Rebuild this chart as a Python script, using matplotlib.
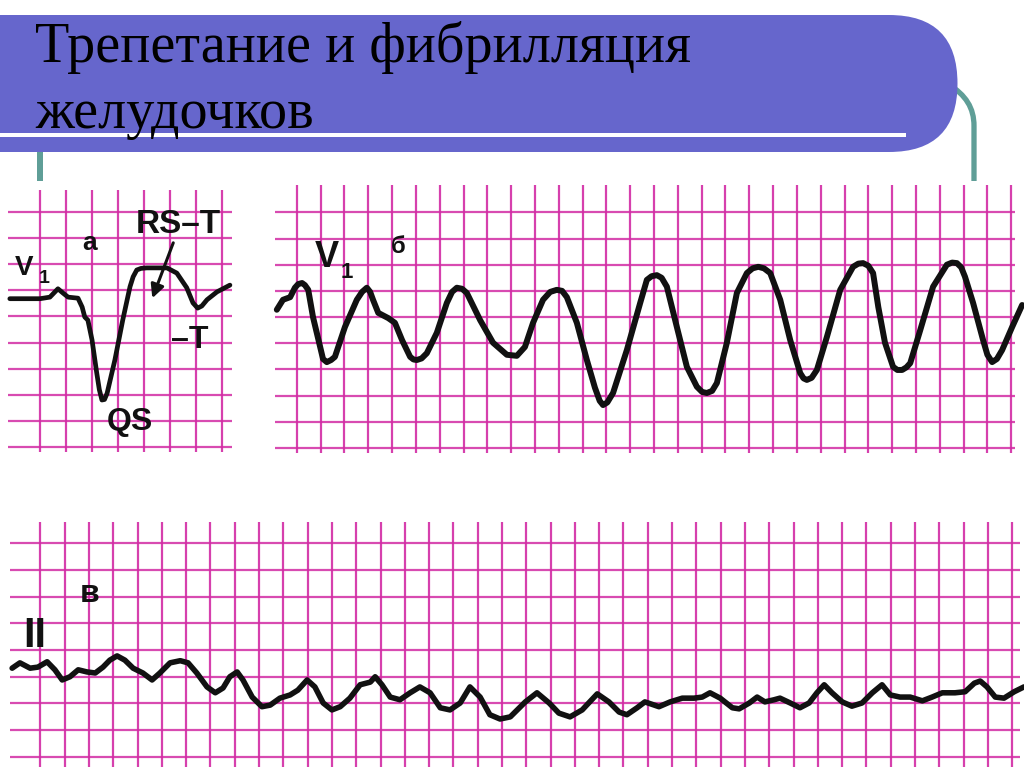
import numpy as np
import matplotlib.pyplot as plt
from matplotlib.patches import FancyBboxPatch, Rectangle, PathPatch
from matplotlib.path import Path

# ---------------- данные (мм ленты по X, мм амплитуды по Y) ----------------
# а: V1, QS + подъём RS-T + отрицательный T
a_x = [-0.8, 5.0, 6.9, 8.45, 9.4, 10.4, 12.3, 13.1, 13.6, 14.2, 15.0, 15.9, 16.4, 16.9,
       17.4, 17.9, 19.4, 20.9, 22.3, 22.9, 23.6, 24.4, 25.5, 29.4, 31.3, 33.2, 34.4,
       35.3, 36.1, 37.1, 39.0, 41.5]
a_y = [28.4, 28.4, 28.7, 30.3, 29.5, 28.7, 28.5, 26.8, 24.9, 24.3, 20.5, 14.2, 11.0, 9.0,
       9.1, 10.3, 16.7, 24.3, 30.7, 32.6, 33.9, 34.2, 34.3, 34.3, 33.3, 30.5, 27.6,
       26.6, 27.0, 28.2, 29.7, 31.0]

# б: V1, трепетание желудочков (пары x, y)
b_pts = np.array([
    (0.8, 26.4), (2.1, 28.3), (3.6, 28.8), (4.6, 30.6), (5.3, 31.3), (6.1, 31.5),
    (6.7, 31.1), (7.4, 30.2), (8.4, 25.0), (9.9, 19.3), (10.5, 17.0), (11.3, 16.4),
    (12.2, 16.8), (13.0, 17.4), (15.1, 23.1), (17.6, 28.3), (18.7, 29.8), (19.7, 30.6),
    (20.4, 29.8), (21.0, 28.3), (22.1, 25.8), (24.2, 24.8), (25.6, 23.9), (27.1, 20.6),
    (28.8, 17.4), (29.5, 16.9), (30.2, 16.8), (31.2, 17.1), (32.3, 18.1), (34.4, 22.0),
    (36.5, 27.7), (37.6, 29.8), (38.6, 30.6), (39.7, 30.4), (40.7, 29.6), (43.5, 24.4),
    (46.2, 20.1), (49.1, 17.8), (51.2, 17.6), (52.9, 19.3), (54.6, 23.9), (56.7, 28.3),
    (58.2, 29.8), (59.6, 30.2), (60.7, 30.0), (61.7, 28.8), (63.8, 23.9), (65.9, 16.8),
    (67.6, 11.5), (68.6, 9.0), (69.3, 8.2), (70.2, 8.7), (71.4, 10.5), (74.3, 18.7),
    (77.1, 27.7), (78.5, 32.1), (79.5, 32.8), (80.6, 33.0), (81.6, 32.5), (82.7, 30.8),
    (84.8, 23.1), (86.9, 15.5), (89.0, 11.7), (90.1, 10.7), (91.1, 10.5), (92.2, 10.9),
    (93.2, 12.4), (95.3, 20.1), (97.4, 29.6), (99.5, 33.4), (100.7, 34.3), (101.9, 34.6),
    (103.1, 34.3), (104.4, 33.4), (106.5, 28.3), (108.6, 20.6), (110.7, 14.3),
    (111.4, 13.3), (112.1, 13.0), (113.1, 13.4), (114.2, 14.9), (116.3, 21.2),
    (119.1, 30.2), (121.8, 34.6), (122.9, 35.2), (123.9, 35.3), (125.0, 34.8),
    (126.0, 33.4), (127.1, 26.9), (128.5, 20.1), (130.2, 15.5), (131.1, 14.9),
    (132.1, 14.9), (133.0, 15.4), (133.8, 16.2), (135.9, 22.5), (138.6, 30.8),
    (141.5, 35.0), (142.6, 35.4), (143.6, 35.3), (144.5, 34.5), (145.3, 32.7),
    (147.0, 27.7), (149.1, 20.6), (150.0, 17.8), (151.0, 16.4), (152.0, 17.0),
    (153.1, 18.7), (155.2, 23.1), (157.3, 27.3),
])
b_x, b_y = b_pts[:, 0], b_pts[:, 1]

# в: II, фибрилляция желудочков
c_x = [-0.8, 0.8, 2.9, 4.5, 6.4, 8.0, 9.5, 11.1, 12.8, 14.6, 16.3, 17.9, 19.3, 20.8,
       22.4, 24.1, 26.1, 28.0, 29.6, 31.7, 33.8, 35.4, 37.2, 39.3, 41.0, 42.6, 44.0,
       45.5, 46.7, 48.6, 50.6, 52.3, 54.3, 56.4, 58.0, 59.9, 61.5, 63.2, 65.0, 66.7,
       68.7, 70.8, 72.9, 73.9, 75.3, 77.0, 79.0, 81.1, 83.1, 85.2, 87.3, 89.3, 91.4,
       93.4, 95.5, 97.5, 99.6, 101.7, 104.8, 107.2, 109.7, 111.7, 114.0, 116.5, 119.6,
       122.0, 124.1, 125.7, 127.8, 129.4, 132.3, 134.6, 137.1, 139.5, 141.2, 142.8,
       144.9, 147.4, 148.8, 150.9, 152.5, 154.1, 156.0, 157.2, 159.3, 161.3, 163.2,
       164.8, 166.3, 167.9, 170.0, 172.0, 174.1, 176.2, 178.2, 179.9, 181.9, 184.0,
       186.5, 188.5, 190.6, 193.2, 195.3, 197.2, 198.4, 199.8, 201.5, 203.3, 205.4, 207.4]
c_y = [16.6, 17.6, 16.6, 16.8, 17.8, 16.3, 14.4, 15.0, 16.3, 15.9, 15.7, 16.8, 18.1,
       18.9, 18.1, 16.6, 15.7, 14.4, 15.7, 17.6, 18.0, 17.6, 15.7, 13.1, 12.0, 12.9,
       15.0, 15.9, 14.4, 11.2, 9.4, 9.7, 11.0, 11.6, 12.5, 14.4, 13.1, 10.1, 8.8, 9.4,
       11.0, 13.5, 14.0, 15.0, 13.5, 11.2, 10.7, 12.0, 13.1, 12.0, 9.2, 8.8, 10.1,
       13.1, 11.2, 7.9, 7.1, 7.5, 10.3, 12.0, 10.1, 8.2, 7.5, 8.8, 11.8, 10.3, 8.4,
       7.9, 9.2, 10.3, 9.4, 10.3, 11.0, 11.0, 11.2, 12.0, 11.0, 9.2, 9.0, 10.1, 11.2,
       10.3, 10.7, 11.0, 10.1, 9.2, 10.1, 12.0, 13.5, 12.0, 10.3, 9.5, 10.1, 12.0,
       13.5, 11.6, 11.2, 11.2, 10.5, 11.2, 12.0, 12.0, 12.2, 13.8, 14.2, 13.1, 11.2,
       11.0, 12.2, 13.1]

title_lines = ["Трепетание и фибрилляция", "желудочков"]

GRID = "#d22ba4"
INK = "#111111"
LBL = dict(family=["Liberation Sans", "DejaVu Sans"], fontweight="bold", color=INK,
           ha="center", va="baseline")

fig = plt.figure(figsize=(10.24, 7.67), dpi=100)
fig.patch.set_facecolor("white")

# ---------------- оформление слайда ----------------
deco = fig.add_axes([0, 0, 1, 1], zorder=0)
deco.set_xlim(0, 1024)
deco.set_ylim(767, 0)
deco.axis("off")

teal = "#5f9e97"
curve = Path([(948, 84), (966, 95), (974, 108), (974, 126), (974, 181)],
             [Path.MOVETO, Path.CURVE4, Path.CURVE4, Path.CURVE4, Path.LINETO])
deco.add_patch(PathPatch(curve, fill=False, edgecolor=teal, lw=3.8))
deco.add_patch(Rectangle((37, 150), 6, 31, color=teal, lw=0))
deco.add_patch(FancyBboxPatch((-200, 15), 1157.5, 137,
                              boxstyle="round,pad=0,rounding_size=68.5",
                              facecolor="#6666cc", edgecolor="none"))
deco.add_patch(Rectangle((0, 133), 906, 4, color="white", lw=0))
for i, line in enumerate(title_lines):
    deco.text(35, 62 + i * 66, line, family="Liberation Serif", fontsize=40.5,
              color="black", ha="left", va="baseline")


def ecg_panel(rect, xlim, ylim, vx, vy_span, hy, hx_span, lw_trace, xs, ys):
    ax = fig.add_axes(rect, zorder=2)
    ax.set_xlim(*xlim)
    ax.set_ylim(*ylim)
    ax.axis("off")
    ax.vlines(vx, *vy_span, color=GRID, lw=1.6, alpha=0.9)
    ax.hlines(hy, *hx_span, color=GRID, lw=1.6, alpha=0.85)
    ax.plot(xs, ys, color=INK, lw=lw_trace, solid_capstyle="round",
            solid_joinstyle="round", clip_on=False)
    return ax


# а
ax_a = ecg_panel([8 / 1024, 1 - 454 / 767, 224 / 1024, 266 / 767],
                 (-1.15, 41.9), (-1.34, 49.6),
                 np.arange(5, 41, 5), (-0.96, 49.2),
                 np.arange(0, 46, 5), (-1.15, 41.9), 3.4, a_x, a_y)
ax_a.text(1.9, 33.0, "V", fontsize=20, **LBL)
ax_a.text(5.8, 31.4, "1", fontsize=14, **LBL)
ax_a.text(14.5, 37.7, "а", fontsize=19, **LBL)
ax_a.text(31.6, 41.0, "RS–T", fontsize=24, **LBL)
ax_a.text(22.2, 3.3, "QS", fontsize=23, **LBL)
ax_a.text(33.8, 19.0, "–T", fontsize=23, **LBL)
ax_a.annotate("", xy=(26.4, 28.0), xytext=(30.8, 39.6),
              arrowprops=dict(arrowstyle="-|>", lw=2.2, color=INK, mutation_scale=20))

# б
ax_b = ecg_panel([273 / 1024, 1 - 455 / 767, 742 / 1024, 272 / 767],
                 (0, 155.8), (-1.34, 50.6),
                 np.arange(5, 156, 5), (-0.96, 50.2),
                 np.arange(0, 46, 5), (0.4, 155.8), 4.3, b_x, b_y)
ax_b.text(11.4, 34.6, "V", fontsize=26, **LBL)
ax_b.text(15.5, 32.5, "1", fontsize=16, **LBL)
ax_b.text(26.3, 37.2, "б", fontsize=17, **LBL)

# в
ax_c = ecg_panel([8 / 1024, 0, 1014 / 1024, 247 / 767],
                 (-1.65, 207.0), (-1.87, 44.3),
                 np.arange(5, 206, 5), (-1.87, 43.9),
                 np.arange(0, 41, 5), (-1.2, 206.6), 4.0, c_x, c_y)
ax_c.text(15.2, 29.0, "в", fontsize=23, **LBL)
ax_c.text(3.8, 20.6, "II", fontsize=30, **LBL)

fig.savefig("out.png", dpi=100, facecolor="white")
